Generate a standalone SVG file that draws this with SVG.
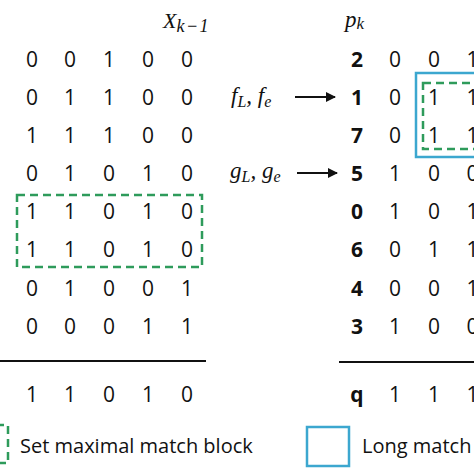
<svg xmlns="http://www.w3.org/2000/svg" width="474" height="474" viewBox="0 0 474 474">
<style>
.d{font-family:"Open Sans","Liberation Sans",sans-serif;font-size:21px;fill:#111;text-anchor:middle}
.b{font-weight:bold}
.m{font-family:"Liberation Serif","DejaVu Serif",serif;font-style:italic;fill:#111}
.lg{font-family:"Open Sans","Liberation Sans",sans-serif;font-size:20px;fill:#111}
.gd{fill:none;stroke:#2e9b5b;stroke-width:2.5;stroke-dasharray:8 5}
.bl{fill:none;stroke:#3ca7cf;stroke-width:2.5}
.ln{stroke:#111;stroke-width:2}
</style>
<defs>
<marker id="ah" markerWidth="10" markerHeight="10" refX="9" refY="5" orient="auto" markerUnits="userSpaceOnUse">
<path d="M0,0 L10,5 L0,10 Z" fill="#111"/>
</marker>
</defs>
<rect width="474" height="474" fill="#fff"/>

<g id="label-X">
<text class="m" x="163" y="28" font-size="22">X<tspan font-size="18" dy="4" letter-spacing="1.5">k−1</tspan></text>
</g>
<g id="label-p">
<text class="m" x="345" y="27" font-size="23">p<tspan font-size="17" dy="2">k</tspan></text>
</g>

<g id="left-matrix" class="d">
<text y="67"><tspan x="32">0</tspan><tspan x="70">0</tspan><tspan x="109">1</tspan><tspan x="148">0</tspan><tspan x="187">0</tspan></text>
<text y="105"><tspan x="32">0</tspan><tspan x="70">1</tspan><tspan x="109">1</tspan><tspan x="148">0</tspan><tspan x="187">0</tspan></text>
<text y="143"><tspan x="32">1</tspan><tspan x="70">1</tspan><tspan x="109">1</tspan><tspan x="148">0</tspan><tspan x="187">0</tspan></text>
<text y="181"><tspan x="32">0</tspan><tspan x="70">1</tspan><tspan x="109">0</tspan><tspan x="148">1</tspan><tspan x="187">0</tspan></text>
<text y="219"><tspan x="32">1</tspan><tspan x="70">1</tspan><tspan x="109">0</tspan><tspan x="148">1</tspan><tspan x="187">0</tspan></text>
<text y="257"><tspan x="32">1</tspan><tspan x="70">1</tspan><tspan x="109">0</tspan><tspan x="148">1</tspan><tspan x="187">0</tspan></text>
<text y="296"><tspan x="32">0</tspan><tspan x="70">1</tspan><tspan x="109">0</tspan><tspan x="148">0</tspan><tspan x="187">1</tspan></text>
<text y="334"><tspan x="32">0</tspan><tspan x="70">0</tspan><tspan x="109">0</tspan><tspan x="148">1</tspan><tspan x="187">1</tspan></text>
<text y="402"><tspan x="32">1</tspan><tspan x="70">1</tspan><tspan x="109">0</tspan><tspan x="148">1</tspan><tspan x="187">0</tspan></text>
</g>

<g id="right-index" class="d b">
<text x="357" y="67">2</text>
<text x="357" y="105">1</text>
<text x="357" y="143">7</text>
<text x="357" y="181">5</text>
<text x="357" y="219">0</text>
<text x="357" y="257">6</text>
<text x="357" y="296">4</text>
<text x="357" y="334">3</text>
<text x="357" y="402">q</text>
</g>

<g id="right-matrix" class="d">
<text y="67"><tspan x="395">0</tspan><tspan x="434">0</tspan><tspan x="472.5">1</tspan></text>
<text y="105"><tspan x="395">0</tspan><tspan x="434">1</tspan><tspan x="472.5">1</tspan></text>
<text y="143"><tspan x="395">0</tspan><tspan x="434">1</tspan><tspan x="472.5">1</tspan></text>
<text y="181"><tspan x="395">1</tspan><tspan x="434">0</tspan><tspan x="472.5">0</tspan></text>
<text y="219"><tspan x="395">1</tspan><tspan x="434">0</tspan><tspan x="472.5">1</tspan></text>
<text y="257"><tspan x="395">0</tspan><tspan x="434">1</tspan><tspan x="472.5">1</tspan></text>
<text y="296"><tspan x="395">0</tspan><tspan x="434">0</tspan><tspan x="472.5">1</tspan></text>
<text y="334"><tspan x="395">1</tspan><tspan x="434">0</tspan><tspan x="472.5">0</tspan></text>
<text y="402"><tspan x="395">1</tspan><tspan x="434">1</tspan><tspan x="472.5">1</tspan></text>
</g>

<g id="blocks">
<rect class="gd" x="17" y="195" width="185" height="72"/>
<rect class="bl" x="416" y="73" width="100" height="84"/>
<rect class="gd" x="423" y="83" width="100" height="66"/>
</g>

<g id="sum-lines">
<line class="ln" x1="0" y1="361" x2="206" y2="361"/>
<line class="ln" x1="339" y1="362" x2="474" y2="362"/>
</g>

<g id="label-f">
<text class="m" x="231" y="103" font-size="23">f<tspan font-size="16" dy="4">L</tspan><tspan dy="-4">, </tspan><tspan>f</tspan><tspan font-size="16" dy="4">e</tspan></text>
</g>
<g id="label-g">
<text class="m" x="230" y="178" font-size="23">g<tspan font-size="16" dy="4">L</tspan><tspan dy="-4">, </tspan><tspan>g</tspan><tspan font-size="16" dy="4">e</tspan></text>
</g>

<g id="connectors">
<line class="ln" x1="295" y1="97" x2="335" y2="97" marker-end="url(#ah)"/>
<line class="ln" x1="297" y1="173" x2="337" y2="173" marker-end="url(#ah)"/>
</g>

<g id="legend">
<rect class="gd" x="-30" y="425" width="38" height="38"/>
<text class="lg" x="20" y="453">Set maximal match block</text>
<rect class="bl" x="307" y="427" width="42" height="39"/>
<text class="lg" x="362" y="453">Long match</text>
</g>
</svg>
